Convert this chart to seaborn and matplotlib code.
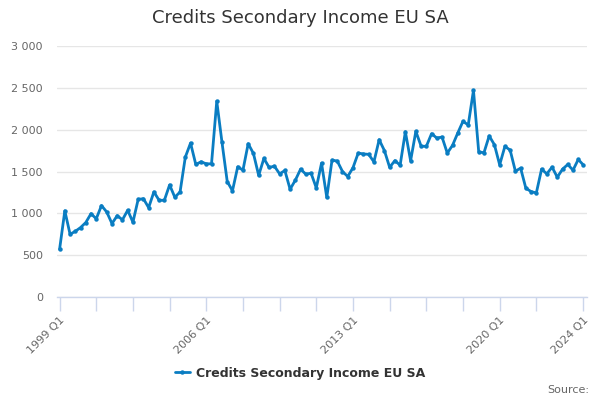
import matplotlib
matplotlib.use("Agg")
import matplotlib.pyplot as plt
import seaborn as sns
import pandas as pd

# quarterly values, 1999 Q1 .. 2024 Q1
values = [
    570, 1030, 750, 785, 830, 890, 996, 935, 1093, 1016,
    878, 972, 923, 1037, 894, 1167, 1175, 1068, 1256, 1156,
    1156, 1340, 1192, 1256, 1672, 1840, 1584, 1616, 1592, 1592,
    2340, 1848, 1380, 1270, 1556, 1516, 1832, 1716, 1454, 1656,
    1548, 1564, 1472, 1512, 1288, 1396, 1528, 1468, 1480, 1304,
    1600, 1190, 1636, 1625, 1500, 1440, 1545, 1720, 1710, 1705,
    1615, 1880, 1750, 1550, 1630, 1575, 1975, 1628, 1980, 1804,
    1800, 1952, 1900, 1912, 1720, 1812, 1960, 2100, 2056, 2470,
    1736, 1724, 1925, 1820, 1580, 1800, 1756, 1504, 1540, 1300,
    1260, 1244, 1528, 1472, 1552, 1432, 1528, 1584, 1516, 1644,
    1576,
]
quarters = [f"{y} Q{q}" for y in range(1999, 2025) for q in range(1, 5)][:len(values)]
series_name = "Credits Secondary Income EU SA"
labelled_quarters = ["1999 Q1", "2006 Q1", "2013 Q1", "2020 Q1", "2024 Q1"]
y_ticks = [0, 500, 1000, 1500, 2000, 2500, 3000]
y_tick_labels = ["0", "500", "1 000", "1 500", "2 000", "2 500", "3 000"]

line_color = "#0a7dc2"
axis_color = "#ccd6eb"
grid_color = "#e6e6e6"
label_color = "#666666"
text_color = "#333333"

sns.set_style("white")
plt.rcParams['font.family'] = ['DejaVu Sans']

df = pd.DataFrame({"pos": range(len(values)), "quarter": quarters, "value": values})

fig = plt.figure(figsize=(6, 4), dpi=100)
ax = fig.add_axes([56.7 / 600, 103 / 400, (587 - 56.7) / 600, 251 / 400])

sns.lineplot(data=df, x="pos", y="value", ax=ax, color=line_color, linewidth=2,
             marker="o", markersize=3.2, markeredgewidth=0, label=series_name)

# y axis
ax.set_ylim(0, 3000)
ax.set_yticks(y_ticks)
ax.set_yticklabels(y_tick_labels)
ax.yaxis.grid(True, color=grid_color, linewidth=1)
ax.set_axisbelow(True)
ax.tick_params(axis="y", length=0, pad=10, labelsize=8, labelcolor=label_color)

# x axis: a tick every 7 quarters plus the last one, labels on a few
ax.set_xlim(-0.55, len(values) - 1 + 0.67)
tick_pos = list(range(0, 92, 7)) + [len(values) - 1]
ax.set_xticks(tick_pos)
ax.set_xticklabels([quarters[p] if quarters[p] in labelled_quarters else "" for p in tick_pos],
                   rotation=45, ha="right", rotation_mode="anchor")
ax.tick_params(axis="x", length=10, width=1, color=axis_color, pad=3,
               labelsize=8, labelcolor=label_color, bottom=True)
ax.set_xlabel("")
ax.set_ylabel("")

for side in ["top", "right", "left"]:
    ax.spines[side].set_visible(False)
ax.spines["bottom"].set_color(axis_color)
ax.spines["bottom"].set_linewidth(1)

leg = ax.legend(loc="center", bbox_to_anchor=(300 / 600, 27 / 400), bbox_transform=fig.transFigure,
                frameon=False, prop={"weight": "bold", "size": 9}, handlelength=1.2, handletextpad=0.5)
for t in leg.get_texts():
    t.set_color(text_color)

fig.text(0.5, 1 - 18 / 400, series_name, ha="center", va="center", fontsize=13, color=text_color)
fig.text(589 / 600, 10 / 400, "Source:", ha="right", va="center", fontsize=8, color=label_color)

fig.savefig("out.png", dpi=100)
plt.close(fig)
